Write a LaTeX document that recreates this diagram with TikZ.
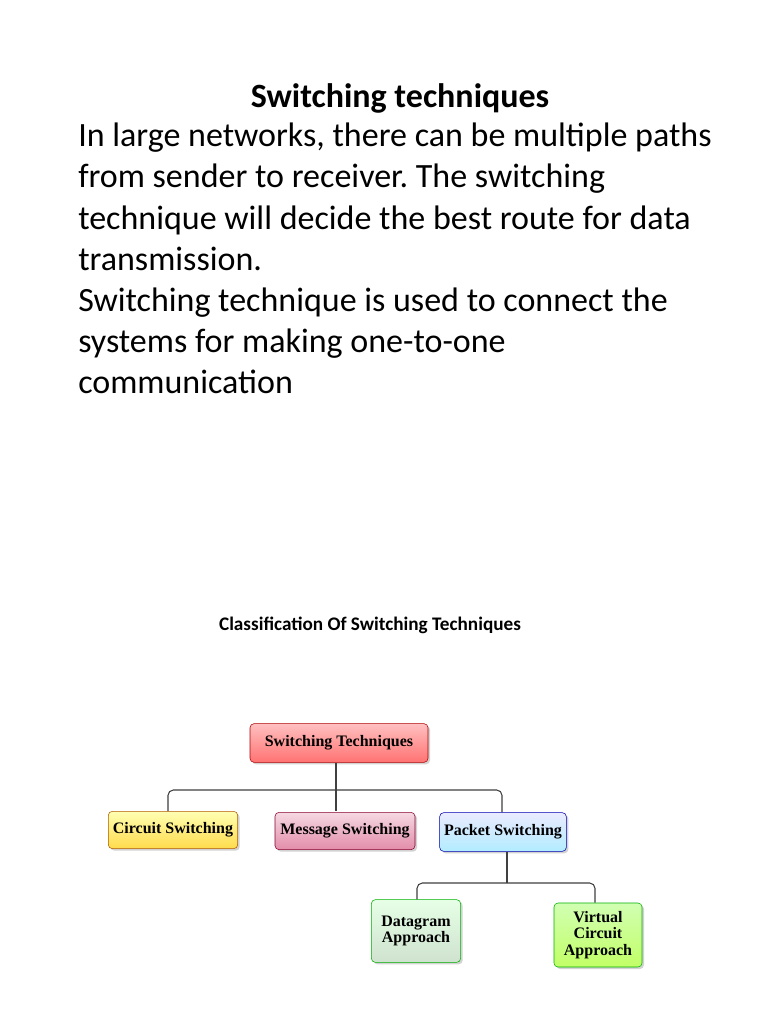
\documentclass[tikz,border=0pt]{standalone}
\usepackage{fontspec}
\setmainfont{Carlito}
\newfontfamily\boxfont{Liberation Serif}
\usetikzlibrary{shadows}
\frenchspacing
\begin{document}
\begin{tikzpicture}[x=0.75pt,y=-0.75pt,
  box/.style={draw=#1!70!black, rounded corners=3pt, align=center, font=\boxfont\bfseries\fontsize{12}{12.5}\selectfont, inner sep=2pt, drop shadow={opacity=0.35,shadow xshift=1.5pt,shadow yshift=-1.5pt}},
  conn/.style={draw=black!75, line width=0.8pt, rounded corners=4pt}]
\useasboundingbox[fill=white] (0,0) rectangle (768,1024);
\node[font=\bfseries\fontsize{25.5}{30}\selectfont] (title) at (400,98) {Switching techniques};
\node[anchor=north west, align=left, inner sep=0, font=\fontsize{25.5}{30.8}\selectfont] (body) at (78,123) {In large networks, there can be multiple paths\\from sender to receiver. The switching\\technique will decide the best route for data\\transmission.\\Switching technique is used to connect the\\systems for making one-to-one\\communication};
\node[font=\bfseries\fontsize{14.4}{16}\selectfont] (cap) at (370,625) {Classification Of Switching Techniques};

\node[box=red, top color=red!25, bottom color=red!55, minimum width=133.5pt, minimum height=29pt] (st) at (339,743) {Switching Techniques};
\node[box=orange, top color=yellow!30, bottom color=yellow!60!orange!70, minimum width=97pt, minimum height=28pt] (cs) at (173,830) {Circuit Switching};
\node[box=purple, top color=purple!15, bottom color=purple!45, minimum width=105pt, minimum height=28pt] (ms) at (345,831) {Message Switching};
\node[box=blue, top color=blue!8, bottom color=blue!25!cyan!30, minimum width=95pt, minimum height=29pt] (ps) at (503,832) {Packet Switching};
\node[box=green, top color=green!10, bottom color=green!25!gray!30, minimum width=67pt, minimum height=47pt] (da) at (416,931) {Datagram\\Approach};
\node[box=green, top color=yellow!40!green!30, bottom color=yellow!60!green!60, minimum width=66pt, minimum height=48pt] (vc) at (598,935) {Virtual\\Circuit\\Approach};

\coordinate (j1) at (336,790);
\coordinate (j2) at (507,883);
\draw[conn] (st.south -| j1) -- (j1);
\draw[conn] (j1) -- (168,790) -- (cs.north -| 168,0);
\draw[conn] (j1) -- (cs.north -| 336,0);
\draw[conn] (j1) -- (502,790) -- (ps.north -| 502,0);
\draw[conn] (ps.south -| j2) -- (j2);
\draw[conn] (j2) -- (417,883) -- (da.north -| 417,0);
\draw[conn] (j2) -- (595,883) -- (vc.north -| 595,0);
\end{tikzpicture}
\end{document}
